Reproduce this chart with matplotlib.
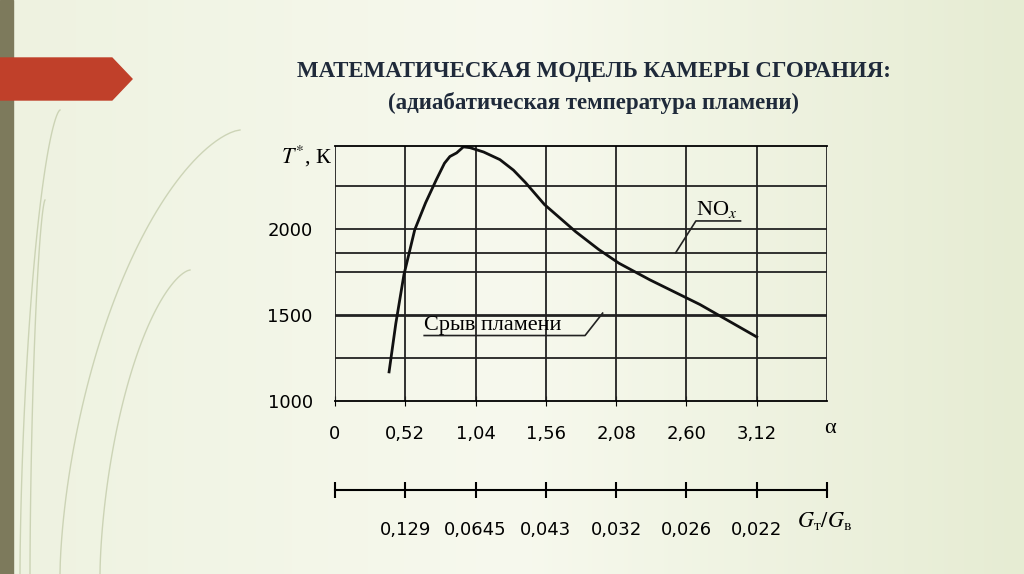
import matplotlib
matplotlib.use("Agg")
import matplotlib.pyplot as plt
import numpy as np
from matplotlib.patches import Polygon, Rectangle
from matplotlib.colors import LinearSegmentedColormap

plt.rcParams["mathtext.fontset"] = "stix"

alpha = [0.40, 0.45, 0.51, 0.59, 0.67, 0.75, 0.81, 0.85, 0.90, 0.95, 1.00, 1.10, 1.22, 1.32, 1.41, 1.55, 1.78, 1.95, 2.10, 2.33, 2.70, 3.12]
temp = [1169, 1450, 1733, 1994, 2150, 2285, 2380, 2419, 2440, 2475, 2470, 2445, 2401, 2340, 2267, 2140, 1983, 1880, 1800, 1703, 1560, 1372]
alpha_ticks = [0, 0.52, 1.04, 1.56, 2.08, 2.60, 3.12]
alpha_labels = ["0", "0,52", "1,04", "1,56", "2,08", "2,60", "3,12"]
g_labels = ["", "0,129", "0,0645", "0,043", "0,032", "0,026", "0,022"]
hlines = [1250, 1500, 1750, 1860, 2000, 2250]
y_labels = [1000, 1500, 2000]

W, H = 1024, 574
fig = plt.figure(figsize=(W/100, H/100), dpi=100)
bg = fig.add_axes([0, 0, 1, 1]); bg.set_xlim(0, W); bg.set_ylim(H, 0); bg.axis("off")
grad = np.linspace(0, 1, 256)[None, :]
cm = LinearSegmentedColormap.from_list("g", ["#eef2e0", "#f7f9ee", "#e6ecd3"])
bg.imshow(grad, cmap=cm, extent=[0, W, H, 0], aspect="auto")
bg.add_patch(Rectangle((0, 0), 13, H, color="#7d7a5c"))
bg.add_patch(Polygon([[0, 58], [112, 58], [132, 79], [112, 100], [0, 100]], color="#c0402a"))
t = np.linspace(0, 1, 60)
for x0, x1, y1 in [(20, 60, 110), (60, 240, 130), (100, 190, 270), (30, 45, 200)]:
    bg.plot(x0 + (x1-x0)*t**1.6, 574 - (574-y1)*(1-(1-t)**1.5), color="#b5bf98", lw=1, alpha=0.6)
fs = "Liberation Serif"
bg.text(594, 72, "МАТЕМАТИЧЕСКАЯ МОДЕЛЬ КАМЕРЫ СГОРАНИЯ:", ha="center", va="center",
        fontsize=16.5, fontweight="bold", family=fs, color="#1f2a3a")
bg.text(594, 103, "(адиабатическая температура пламени)", ha="center", va="center",
        fontsize=16.5, fontweight="bold", family=fs, color="#1f2a3a")

ax = fig.add_axes([335/W, 1-401/H, (827-335)/W, (401-146)/H])
ax.patch.set_alpha(0)
ax.set_xlim(0, 3.64); ax.set_ylim(1000, 2480)
for x in alpha_ticks[1:] + [3.64]:
    ax.axvline(x, color="#222", lw=1.3)
for y in hlines:
    ax.axhline(y, color="#222", lw=2 if y == 1500 else 1.3)
ax.plot(alpha, temp, color="#111", lw=2)
for s in ["left", "right"]:
    ax.spines[s].set_visible(False)
ax.spines["top"].set_linewidth(1.3); ax.spines["bottom"].set_linewidth(1.3)
ax.axvline(0, color="#222", lw=1.3)
ax.set_xticks(alpha_ticks); ax.set_xticklabels(alpha_labels)
ax.set_yticks(y_labels)
ax.tick_params(axis="x", length=7, direction="inout", labelsize=13, pad=14)
ax.tick_params(axis="y", length=0, labelsize=13, pad=16)
ax.text(-0.02, 2420, "$T^{*}$, К", family=fs, fontsize=16, ha="right", va="center")
ax.text(3.66, 840, "α", ha="center", va="center", fontsize=16, family=fs)
ax.text(0.66, 1385, "Срыв пламени", family=fs, fontsize=16, ha="left", va="bottom")
ax.plot([0.66, 1.85, 1.98], [1380, 1380, 1510], color="#222", lw=1.2)
ax.text(2.67, 2048, "NO$_x$", family=fs, fontsize=16, ha="left", va="bottom")
ax.plot([3.0, 2.67, 2.52], [2045, 2045, 1860], color="#222", lw=1.2)

ax2 = fig.add_axes([335/W, 1-490/H, (827-335)/W, 0.001])
ax2.set_xlim(0, 3.64); ax2.set_ylim(0, 1)
for s in ["left", "right", "top"]:
    ax2.spines[s].set_visible(False)
ax2.patch.set_alpha(0)
ax2.spines["bottom"].set_linewidth(1.5)
ax2.set_yticks([])
ax2.set_xticks(alpha_ticks + [3.64]); ax2.set_xticklabels(g_labels + [""])
ax2.tick_params(axis="x", length=12, width=1.5, direction="inout", labelsize=13, pad=16)
fig.text(797/W, 1-521/H, "$G_{\\mathrm{т}}/G_{\\mathrm{в}}$", fontsize=16, ha="left", va="center")
fig.savefig("out.png", dpi=100)
